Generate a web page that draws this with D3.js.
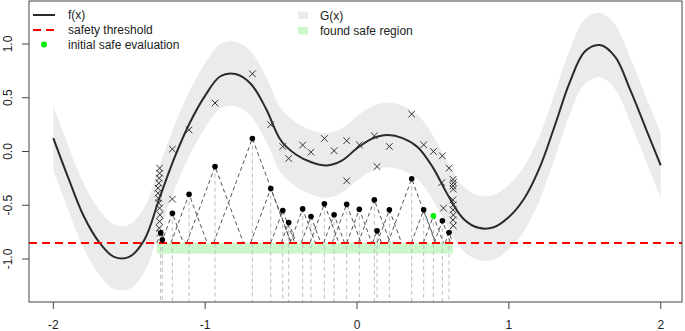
<!DOCTYPE html>
<html>
<head>
<meta charset="utf-8">
<script src="https://cdn.jsdelivr.net/npm/d3@7/dist/d3.min.js"></script>
<style>
  body { margin: 0; background: #fff; }
  svg text { font-family: "Liberation Sans", Arial, sans-serif; font-size: 12px; fill: #222; }
</style>
</head>
<body>
<div id="chart"></div>
<script>
// f(x) on a 0.1 grid
const gridX = [-2.0, -1.9, -1.8, -1.7, -1.6, -1.5, -1.4, -1.3, -1.2, -1.1, -1.0, -0.9, -0.8, -0.7, -0.6, -0.5, -0.4, -0.3, -0.2, -0.1,
    0.0, 0.1, 0.2, 0.3, 0.4, 0.5, 0.6, 0.7, 0.8, 0.9, 1.0, 1.1, 1.2, 1.3, 1.4, 1.5, 1.6, 1.7, 1.8, 1.9, 2.0];
const fY = [0.125, -0.25, -0.60, -0.84, -0.98, -0.98, -0.82, -0.43, -0.05, 0.27, 0.52, 0.70, 0.72, 0.63, 0.40, 0.10, -0.03, -0.10, -0.13, -0.085,
    0.03, 0.12, 0.153, 0.125, 0.04, -0.15, -0.41, -0.625, -0.71, -0.705, -0.61, -0.44, -0.16, 0.23, 0.64, 0.93, 0.99, 0.88, 0.57, 0.22, -0.13];
// G(x) band
const gUpper = [0.425, 0.05, -0.30, -0.54, -0.68, -0.68, -0.52, -0.13, 0.25, 0.57, 0.82, 1.00, 1.02, 0.93, 0.70, 0.40, 0.27, 0.20, 0.17, 0.215,
    0.33, 0.42, 0.453, 0.425, 0.34, 0.15, -0.11, -0.325, -0.41, -0.405, -0.31, -0.14, 0.14, 0.53, 0.94, 1.23, 1.29, 1.18, 0.87, 0.52, 0.17];
const gLower = [-0.175, -0.55, -0.90, -1.14, -1.28, -1.28, -1.12, -0.73, -0.35, -0.03, 0.22, 0.40, 0.42, 0.33, 0.10, -0.20, -0.33, -0.40, -0.43, -0.385,
    -0.27, -0.18, -0.147, -0.175, -0.26, -0.45, -0.71, -0.925, -1.01, -1.005, -0.91, -0.74, -0.46, -0.07, 0.34, 0.63, 0.69, 0.58, 0.27, -0.08, -0.43];

// lower bounds of evaluated points (black dots)
const safeX = [-1.293, -1.282, -1.216, -1.106, -0.935, -0.689, -0.568, -0.489, -0.45, -0.358, -0.303, -0.215, -0.151, -0.068, 0.015,
    0.114, 0.132, 0.213, 0.36, 0.439, 0.562, 0.606];
const safeY = [-0.757, -0.822, -0.574, -0.397, -0.14, 0.121, -0.344, -0.549, -0.661, -0.534, -0.605, -0.487, -0.589, -0.49, -0.537,
    -0.45, -0.738, -0.543, -0.254, -0.543, -0.645, -0.754];
const initX = [0.503];
const initY = [-0.599];

// crosses
const crossX = [-1.216, -1.106, -0.935, -0.689, -0.568, -0.489, -0.45, -0.358, -0.303, -0.215, -0.151, -0.068, 0.015, 0.114, 0.132,
    0.213, 0.36, 0.439, 0.503, 0.562, 0.606, -1.216, -0.068, 0.558, 0.569,
    -1.300, -1.300, -1.302, -1.305, -1.310, -1.310, -1.308, -1.306, -1.300, -1.298, -1.300, -1.302, -1.297,
    0.632, 0.634, 0.632, 0.634, 0.632, 0.634, 0.632, 0.634, 0.632, 0.634];
const crossY = [0.022, 0.202, 0.451, 0.723, 0.249, 0.047, -0.065, 0.06, -0.006, 0.121, 0.007, 0.1, 0.062, 0.146, -0.14,
    0.047, 0.348, 0.062, 0.0, -0.04, -0.155, -0.443, -0.273, -0.29, -0.527,
    -0.155, -0.202, -0.248, -0.295, -0.341, -0.388, -0.434, -0.48, -0.527, -0.589, -0.651, -0.713, -0.76,
    -0.26, -0.29, -0.32, -0.35, -0.45, -0.496, -0.543, -0.59, -0.636, -0.69];

const threshold = -0.85;
const lipschitz = 3.8;
const safeRegion = [-1.318, 0.633];
const safeBand = [-0.95, -0.85];
const xTicks = [-2, -1, 0, 1, 2];
const yTicks = [-1.0, -0.5, 0.0, 0.5, 1.0];

const W = 685, H = 331;
const padL = 29, padR = 682, padT = 1, padB = 302;

const svg = d3.select("#chart").append("svg")
    .attr("width", W)
    .attr("height", H);

const x = d3.scaleLinear().domain([-2.16, 2.14]).range([padL, padR]);
const y = d3.scaleLinear().domain([-1.4, 1.4]).range([padB, padT]);

const plot = svg.append("g");

// G(x) band
const bandData = gridX.map((v, i) => ({ x: v, lo: gLower[i], hi: gUpper[i] }));
plot.append("path")
    .datum(bandData)
    .attr("fill", "#ebebeb")
    .attr("d", d3.area()
        .x(d => x(d.x))
        .y0(d => y(d.lo))
        .y1(d => y(d.hi))
        .curve(d3.curveCatmullRom.alpha(0.5)));

// found safe region
plot.append("rect")
    .attr("x", x(safeRegion[0]))
    .attr("width", x(safeRegion[1]) - x(safeRegion[0]))
    .attr("y", y(safeBand[1]))
    .attr("height", y(safeBand[0]) - y(safeBand[1]))
    .attr("fill", "#ccf7cc");

// f(x)
const fData = gridX.map((v, i) => ({ x: v, y: fY[i] }));
plot.append("path")
    .datum(fData)
    .attr("fill", "none")
    .attr("stroke", "#2a2a2a")
    .attr("stroke-width", 2)
    .attr("d", d3.line()
        .x(d => x(d.x))
        .y(d => y(d.y))
        .curve(d3.curveCatmullRom.alpha(0.5)));

const pts = safeX.map((v, i) => ({ x: v, y: safeY[i] }))
    .concat(initX.map((v, i) => ({ x: v, y: initY[i], init: true })));

// vertical guides
plot.selectAll(".vline")
    .data(pts)
    .enter()
    .append("line")
    .attr("class", "vline")
    .attr("x1", d => x(d.x))
    .attr("x2", d => x(d.x))
    .attr("y1", d => y(d.y))
    .attr("y2", padB)
    .attr("stroke", "#bdbdbd")
    .attr("stroke-width", 1)
    .attr("stroke-dasharray", "4,3");

// Lipschitz cones down to the threshold
plot.selectAll(".cone")
    .data(pts)
    .enter()
    .append("path")
    .attr("class", "cone")
    .attr("fill", "none")
    .attr("stroke", "#555")
    .attr("stroke-width", 1)
    .attr("stroke-dasharray", "4,3")
    .attr("d", d => {
        const hw = (d.y - threshold) / lipschitz;
        return d3.line()([[x(d.x - hw), y(threshold)], [x(d.x), y(d.y)], [x(d.x + hw), y(threshold)]]);
    });

// safety threshold
plot.append("line")
    .attr("x1", padL)
    .attr("x2", padR)
    .attr("y1", y(threshold))
    .attr("y2", y(threshold))
    .attr("stroke", "#ff0000")
    .attr("stroke-width", 2)
    .attr("stroke-dasharray", "8,5");

// crosses
const cross = 3.3;
plot.selectAll(".cross")
    .data(crossX.map((v, i) => ({ x: v, y: crossY[i] })))
    .enter()
    .append("path")
    .attr("class", "cross")
    .attr("fill", "none")
    .attr("stroke", "#333")
    .attr("stroke-width", 1)
    .attr("d", d => {
        const cx = x(d.x), cy = y(d.y);
        return `M${cx - cross},${cy - cross}L${cx + cross},${cy + cross}M${cx - cross},${cy + cross}L${cx + cross},${cy - cross}`;
    });

// dots
plot.selectAll(".dot")
    .data(pts)
    .enter()
    .append("circle")
    .attr("class", "dot")
    .attr("cx", d => x(d.x))
    .attr("cy", d => y(d.y))
    .attr("r", 2.8)
    .attr("fill", d => d.init ? "#00ee00" : "#000");

// frame
svg.append("rect")
    .attr("x", padL)
    .attr("y", padT)
    .attr("width", padR - padL)
    .attr("height", padB - padT)
    .attr("fill", "none")
    .attr("stroke", "#444")
    .attr("stroke-width", 1);

// x axis
const xa = svg.append("g");
xa.selectAll("line")
    .data(xTicks)
    .enter()
    .append("line")
    .attr("x1", d => x(d))
    .attr("x2", d => x(d))
    .attr("y1", padB)
    .attr("y2", padB + 7)
    .attr("stroke", "#444");
xa.selectAll("text")
    .data(xTicks)
    .enter()
    .append("text")
    .attr("x", d => x(d))
    .attr("y", 328.5)
    .attr("text-anchor", "middle")
    .text(d => d3.format("d")(d).replace("\u2212", "-"));

// y axis
const ya = svg.append("g");
ya.selectAll("line")
    .data(yTicks)
    .enter()
    .append("line")
    .attr("x1", padL - 7)
    .attr("x2", padL)
    .attr("y1", d => y(d))
    .attr("y2", d => y(d))
    .attr("stroke", "#444");
ya.selectAll("text")
    .data(yTicks)
    .enter()
    .append("text")
    .attr("transform", d => `translate(12,${y(d)}) rotate(-90)`)
    .attr("text-anchor", "middle")
    .text(d => d3.format(".1f")(d).replace("\u2212", "-"));

// legends
const legL = svg.append("g");
legL.append("line")
    .attr("x1", 33).attr("x2", 55).attr("y1", 15).attr("y2", 15)
    .attr("stroke", "#2a2a2a").attr("stroke-width", 2);
legL.append("line")
    .attr("x1", 33).attr("x2", 55).attr("y1", 30).attr("y2", 30)
    .attr("stroke", "#ff0000").attr("stroke-width", 2).attr("stroke-dasharray", "8,5");
legL.append("circle")
    .attr("cx", 44).attr("cy", 44.5).attr("r", 3)
    .attr("fill", "#00ee00");
const legLabels = ["f(x)", "safety threshold", "initial safe evaluation"];
legL.selectAll("text")
    .data(legLabels)
    .enter()
    .append("text")
    .attr("x", 68)
    .attr("y", (d, i) => 15 + i * 14.7)
    .attr("dy", "0.35em")
    .text(d => d);

const legR = svg.append("g");
const rightLabels = ["G(x)", "found safe region"];
const rightColors = ["#ebebeb", "#ccf7cc"];
legR.selectAll("rect")
    .data(rightColors)
    .enter()
    .append("rect")
    .attr("x", 298)
    .attr("y", (d, i) => 11.5 + i * 15.5)
    .attr("width", 10)
    .attr("height", 7.5)
    .attr("fill", d => d);
legR.selectAll("text")
    .data(rightLabels)
    .enter()
    .append("text")
    .attr("x", 320)
    .attr("y", (d, i) => 15.5 + i * 15.5)
    .attr("dy", "0.35em")
    .text(d => d);
</script>
</body>
</html>
